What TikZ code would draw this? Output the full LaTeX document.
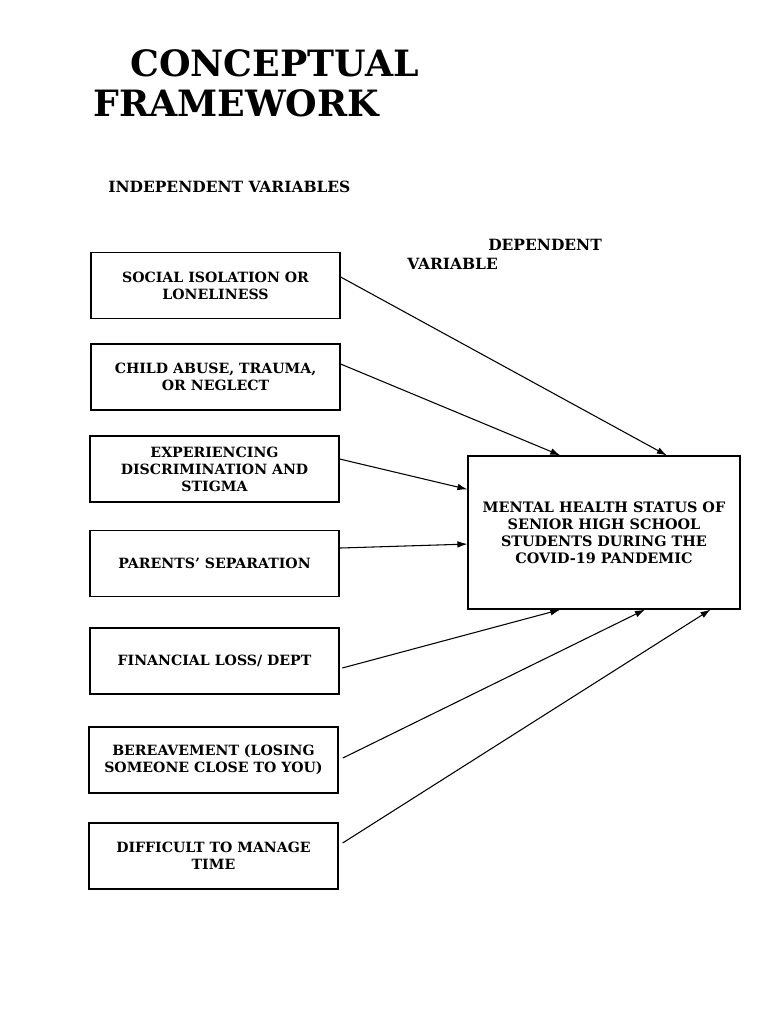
\documentclass[tikz,border=0pt]{standalone}
\usepackage{fontspec}
\setmainfont{DejaVu Serif}
\usetikzlibrary{arrows.meta,calc,positioning}

\begin{document}
\begin{tikzpicture}[x=0.75pt,y=-0.75pt,font=\bfseries\fontsize{10.6}{12.8}\selectfont,
    varbox/.style={draw,line width=0.9pt,minimum width=186.75pt,minimum height=49.5pt,align=center,inner sep=2pt},
    link/.style={-{Latex[length=7.5pt,width=5pt]},line width=0.8pt}]
        \useasboundingbox (0,0) rectangle (768,1024);
        % heading
        \node[anchor=base west,inner sep=0,font=\bfseries\fontsize{27.2}{32}\selectfont] (ttl1) at (130,77) {CONCEPTUAL};
        \node[anchor=base west,inner sep=0,font=\bfseries\fontsize{27.2}{32}\selectfont] (ttl2) at (93,117) {FRAMEWORK};
        \node[anchor=base west,inner sep=0,font=\bfseries\fontsize{11.6}{14}\selectfont] (indep) at (108,192) {INDEPENDENT VARIABLES};
        \node[anchor=base west,inner sep=0,font=\bfseries\fontsize{11.6}{14}\selectfont] (dep1) at (488,250) {DEPENDENT};
        \node[anchor=base west,inner sep=0,font=\bfseries\fontsize{11.6}{14}\selectfont] (dep2) at (407,269) {VARIABLE};
        % independent variables
        \node[varbox] (iso) at (215.5,285.5) {SOCIAL ISOLATION OR\\LONELINESS};
        \node[varbox] (abuse) at (215.5,377) {CHILD ABUSE, TRAUMA,\\OR NEGLECT};
        \node[varbox] (discr) at (214.5,469) {EXPERIENCING\\DISCRIMINATION AND\\STIGMA};
        \node[varbox] (sep) at (214.5,563.5) {PARENTS’ SEPARATION};
        \node[varbox] (loss) at (214.5,661) {FINANCIAL LOSS/ DEPT};
        \node[varbox,line width=1.3pt] (grief) at (213.5,760) {BEREAVEMENT (LOSING\\SOMEONE CLOSE TO YOU)};
        \node[varbox] (time) at (213.5,856) {DIFFICULT TO MANAGE\\TIME};
        % dependent variable
        \node[varbox,minimum width=204pt,minimum height=114.75pt,font=\bfseries\fontsize{10.8}{12.8}\selectfont] (mh) at (604,532.5)
            {MENTAL HEALTH STATUS OF\\SENIOR HIGH SCHOOL\\STUDENTS DURING THE\\COVID-19 PANDEMIC};
        \coordinate (t1) at ($(mh.north west)!0.73!(mh.north east)$);
        \coordinate (t2) at ($(mh.north west)!0.34!(mh.north east)$);
        \coordinate (l1) at ($(mh.north west)!0.22!(mh.south west)$);
        \coordinate (l2) at ($(mh.north west)!0.575!(mh.south west)$);
        \coordinate (b1) at ($(mh.south west)!0.34!(mh.south east)$);
        \coordinate (b2) at ($(mh.south west)!0.65!(mh.south east)$);
        \coordinate (b3) at ($(mh.south west)!0.89!(mh.south east)$);
        % arrows
        \draw[link] ([yshift=6.4pt]iso.east) -- (t1);
        \draw[link] ([yshift=9.75pt]abuse.east) -- (t2);
        \draw[link] ([yshift=7.5pt]discr.east) -- (l1);
        \draw[link] ([yshift=11.6pt]sep.east) -- (l2);
        \draw[link] ([xshift=2pt,yshift=-5.25pt]loss.east) -- (b1);
        \draw[link] ([xshift=3pt,yshift=1.5pt]grief.east) -- (b2);
        \draw[link] ([xshift=3pt,yshift=9.75pt]time.east) -- (b3);
      \end{tikzpicture}
\end{document}
